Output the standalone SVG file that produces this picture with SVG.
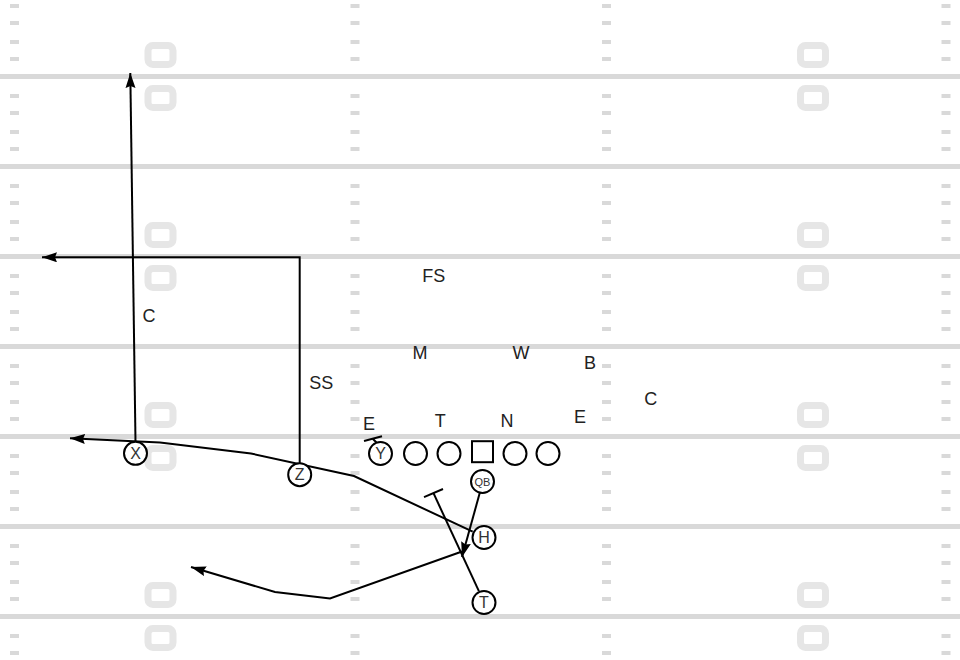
<svg xmlns="http://www.w3.org/2000/svg" width="960" height="660" viewBox="0 0 960 660">
<style>
.yl{fill:#d9d9d9}
.hm{fill:#d9d9d9}
.num{fill:none;stroke:#e6e6e6;stroke-width:7}
.pl{fill:#fff;stroke:#000;stroke-width:2}
.pt{font-family:"Liberation Sans",Arial,sans-serif;font-size:16px;fill:#333;text-anchor:middle}
.qb{font-size:11px}
.df{font-family:"Liberation Sans",Arial,sans-serif;font-size:18px;fill:#222;text-anchor:middle}
.rt{fill:none;stroke:#000;stroke-width:2;stroke-linejoin:miter}
.ar{marker-end:url(#arw)}
</style>
<defs>
<marker id="arw" markerUnits="userSpaceOnUse" markerWidth="16" markerHeight="11" refX="15" refY="5" orient="auto" viewBox="0 0 16 11">
<path d="M0,0 L15,5 L0,10 L2,5 z" fill="#000"/>
</marker>
<g id="hashrow">
<rect x="10" width="9" height="4" class="hm"/>
<rect x="350.5" width="9" height="4" class="hm"/>
<rect x="602" width="9" height="4" class="hm"/>
<rect x="941.5" width="9" height="4" class="hm"/>
</g>
<g id="numpair">
<rect x="148" y="45.5" width="25" height="19" rx="5" class="num"/>
<rect x="148" y="88.5" width="25" height="19" rx="5" class="num"/>
<rect x="800.5" y="45.5" width="25" height="19" rx="5" class="num"/>
<rect x="800.5" y="88.5" width="25" height="19" rx="5" class="num"/>
</g>
</defs>
<rect width="960" height="660" fill="#fff"/>
<g id="field">
<rect x="0" y="74" width="960" height="5" class="yl"/>
<rect x="0" y="164" width="960" height="5" class="yl"/>
<rect x="0" y="254" width="960" height="5" class="yl"/>
<rect x="0" y="344" width="960" height="5" class="yl"/>
<rect x="0" y="434" width="960" height="5" class="yl"/>
<rect x="0" y="524" width="960" height="5" class="yl"/>
<rect x="0" y="614" width="960" height="5" class="yl"/>
<use href="#hashrow" y="4"/><use href="#hashrow" y="21"/><use href="#hashrow" y="40"/><use href="#hashrow" y="57"/>
<use href="#hashrow" y="94"/><use href="#hashrow" y="111"/><use href="#hashrow" y="130"/><use href="#hashrow" y="147"/>
<use href="#hashrow" y="184"/><use href="#hashrow" y="201"/><use href="#hashrow" y="220"/><use href="#hashrow" y="237"/>
<use href="#hashrow" y="274"/><use href="#hashrow" y="291"/><use href="#hashrow" y="310"/><use href="#hashrow" y="327"/>
<use href="#hashrow" y="364"/><use href="#hashrow" y="381"/><use href="#hashrow" y="400"/><use href="#hashrow" y="417"/>
<use href="#hashrow" y="454"/><use href="#hashrow" y="471"/><use href="#hashrow" y="490"/><use href="#hashrow" y="507"/>
<use href="#hashrow" y="544"/><use href="#hashrow" y="561"/><use href="#hashrow" y="580"/><use href="#hashrow" y="597"/>
<use href="#hashrow" y="634"/><use href="#hashrow" y="651"/>
<use href="#numpair" y="0"/>
<use href="#numpair" y="180"/>
<use href="#numpair" y="360"/>
<use href="#numpair" y="540"/>
</g>
<g id="connectors">
<path class="rt ar" d="M135.5,441.5 L130.3,73"/>
<path class="rt ar" d="M299.7,463 L299.7,257.3 L42,257.3"/>
<path class="rt ar" d="M472.7,531.7 L354,476 L251,453.5 L160,442.5 L70,438.3"/>
<path class="rt ar" d="M479.8,492.8 L462,557"/>
<path class="rt ar" d="M462,551.5 L330,598.5 L275,592 L191,567"/>
<path class="rt" d="M478.9,591.1 L433.5,493.2"/>
<path class="rt" d="M424,497.2 L443,489"/>
<path class="rt" d="M372.7,438.8 L376.5,442.5"/>
<path class="rt" d="M364,441 L382,436.3"/>
</g>
<g id="node-X"><circle cx="135.5" cy="453.3" r="11.5" class="pl"/><text x="135.5" y="459" class="pt">X</text></g>
<g id="node-Z"><circle cx="299.7" cy="474.7" r="11.5" class="pl"/><text x="299.7" y="480.4" class="pt">Z</text></g>
<g id="node-Y"><circle cx="380.5" cy="453.5" r="11.5" class="pl"/><text x="380.5" y="459.2" class="pt">Y</text></g>
<g id="node-LG"><circle cx="415.5" cy="453.5" r="11.5" class="pl"/></g>
<g id="node-LT"><circle cx="449" cy="453.5" r="11.5" class="pl"/></g>
<g id="node-C"><rect x="472" y="441.2" width="21" height="21" class="pl"/></g>
<g id="node-RG"><circle cx="515" cy="453.5" r="11.5" class="pl"/></g>
<g id="node-RT"><circle cx="548" cy="453.5" r="11.5" class="pl"/></g>
<g id="node-QB"><circle cx="482.5" cy="481.5" r="11.5" class="pl"/><text x="482.5" y="485.5" class="pt qb">QB</text></g>
<g id="node-H"><circle cx="484" cy="537.5" r="11.5" class="pl"/><text x="484" y="543.2" class="pt">H</text></g>
<g id="node-T"><circle cx="484" cy="602.5" r="11.5" class="pl"/><text x="484" y="608.2" class="pt">T</text></g>
<g id="defense">
<text x="433.7" y="282" class="df">FS</text>
<text x="420" y="359.3" class="df">M</text>
<text x="521" y="359.3" class="df">W</text>
<text x="590" y="369" class="df">B</text>
<text x="650.7" y="405" class="df">C</text>
<text x="149" y="321.7" class="df">C</text>
<text x="321.3" y="389.3" class="df">SS</text>
<text x="369" y="429.5" class="df">E</text>
<text x="440.3" y="426.7" class="df">T</text>
<text x="507" y="426.7" class="df">N</text>
<text x="580" y="422.7" class="df">E</text>
</g>
</svg>
